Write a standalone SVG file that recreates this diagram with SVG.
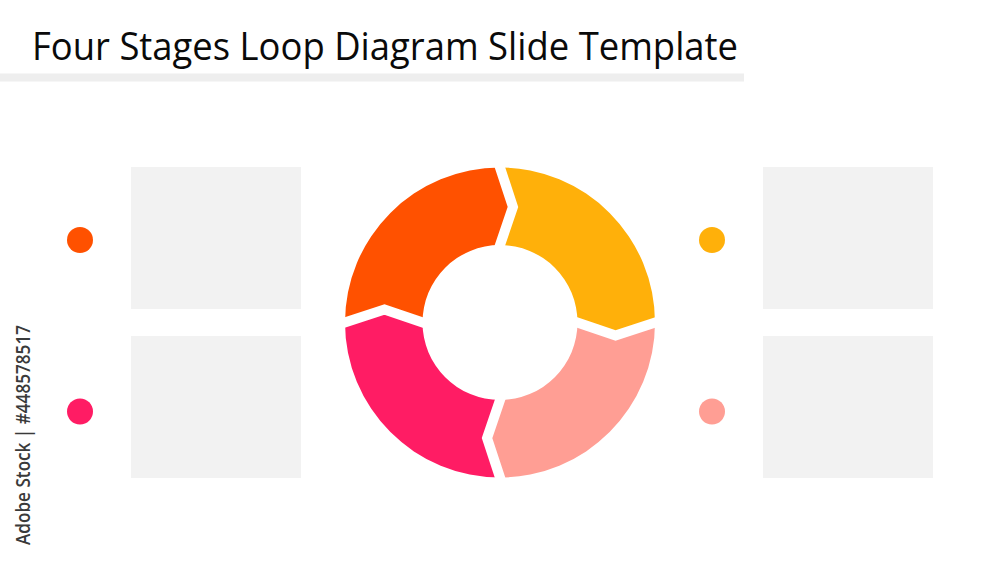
<svg xmlns="http://www.w3.org/2000/svg" xmlns:xlink="http://www.w3.org/1999/xlink" width="1000" height="563" viewBox="0 0 1000 563">
  <style>
    .box { fill: #F2F2F2; }
    .gap { fill: none; stroke: #FFFFFF; stroke-width: 10; stroke-linejoin: miter; stroke-miterlimit: 10; }
    .title { font-family: "Open Sans", "Liberation Sans", sans-serif; font-size: 38px; fill: #0A0A0A; }
    .credit { font-family: "Open Sans", "Liberation Sans", sans-serif; font-size: 19px; font-weight: 600; fill: #3A3A3A; }
  </style>
  <defs>
    <polyline id="chev" class="gap" points="497.4,159.6 512.96,206.97 497.4,252.6"/>
  </defs>
  <rect width="1000" height="563" fill="#FFFFFF"/>

  <g id="title">
    <text class="title" x="32" y="59.5" textLength="706" lengthAdjust="spacingAndGlyphs">Four Stages Loop Diagram Slide Template</text>
    <rect x="0" y="73.5" width="744" height="8" fill="#EEEEEE"/>
  </g>

  <g id="ring">
    <path id="seg-orange" fill="#FF5100" d="M345,322.5 A155,155 0 0 1 500,167.5 L512.96,206.97 L500,245 A77.5,77.5 0 0 0 422.5,322.5 L384.47,309.54 Z"/>
    <path id="seg-yellow" fill="#FFB00A" d="M500,167.5 A155,155 0 0 1 655,322.5 L615.53,335.46 L577.5,322.5 A77.5,77.5 0 0 0 500,245 L512.96,206.97 Z"/>
    <path id="seg-salmon" fill="#FF9E94" d="M655,322.5 A155,155 0 0 1 500,477.5 L487.04,438.03 L500,400 A77.5,77.5 0 0 0 577.5,322.5 L615.53,335.46 Z"/>
    <path id="seg-magenta" fill="#FF1C64" d="M500,477.5 A155,155 0 0 1 345,322.5 L384.47,309.54 L422.5,322.5 A77.5,77.5 0 0 0 500,400 L487.04,438.03 Z"/>
    <g id="gaps">
      <use xlink:href="#chev"/>
      <use xlink:href="#chev" transform="rotate(90 500 322.5)"/>
      <use xlink:href="#chev" transform="rotate(180 500 322.5)"/>
      <use xlink:href="#chev" transform="rotate(270 500 322.5)"/>
    </g>
  </g>

  <g id="item-left-top">
    <circle cx="80" cy="240" r="13" fill="#FF5100"/>
    <rect class="box" x="131" y="167" width="170" height="142"/>
  </g>
  <g id="item-left-bottom">
    <circle cx="80" cy="411.5" r="13" fill="#FF1C64"/>
    <rect class="box" x="131" y="336" width="170" height="142"/>
  </g>
  <g id="item-right-top">
    <circle cx="712" cy="240" r="13" fill="#FFB00A"/>
    <rect class="box" x="763" y="167" width="170" height="142"/>
  </g>
  <g id="item-right-bottom">
    <circle cx="712" cy="411.5" r="13" fill="#FF9E94"/>
    <rect class="box" x="763" y="336" width="170" height="142"/>
  </g>

  <g id="connectors"></g>

  <text class="credit" transform="translate(30 545) rotate(-90)" x="0" y="0" textLength="220" lengthAdjust="spacingAndGlyphs">Adobe Stock | #448578517</text>
</svg>
